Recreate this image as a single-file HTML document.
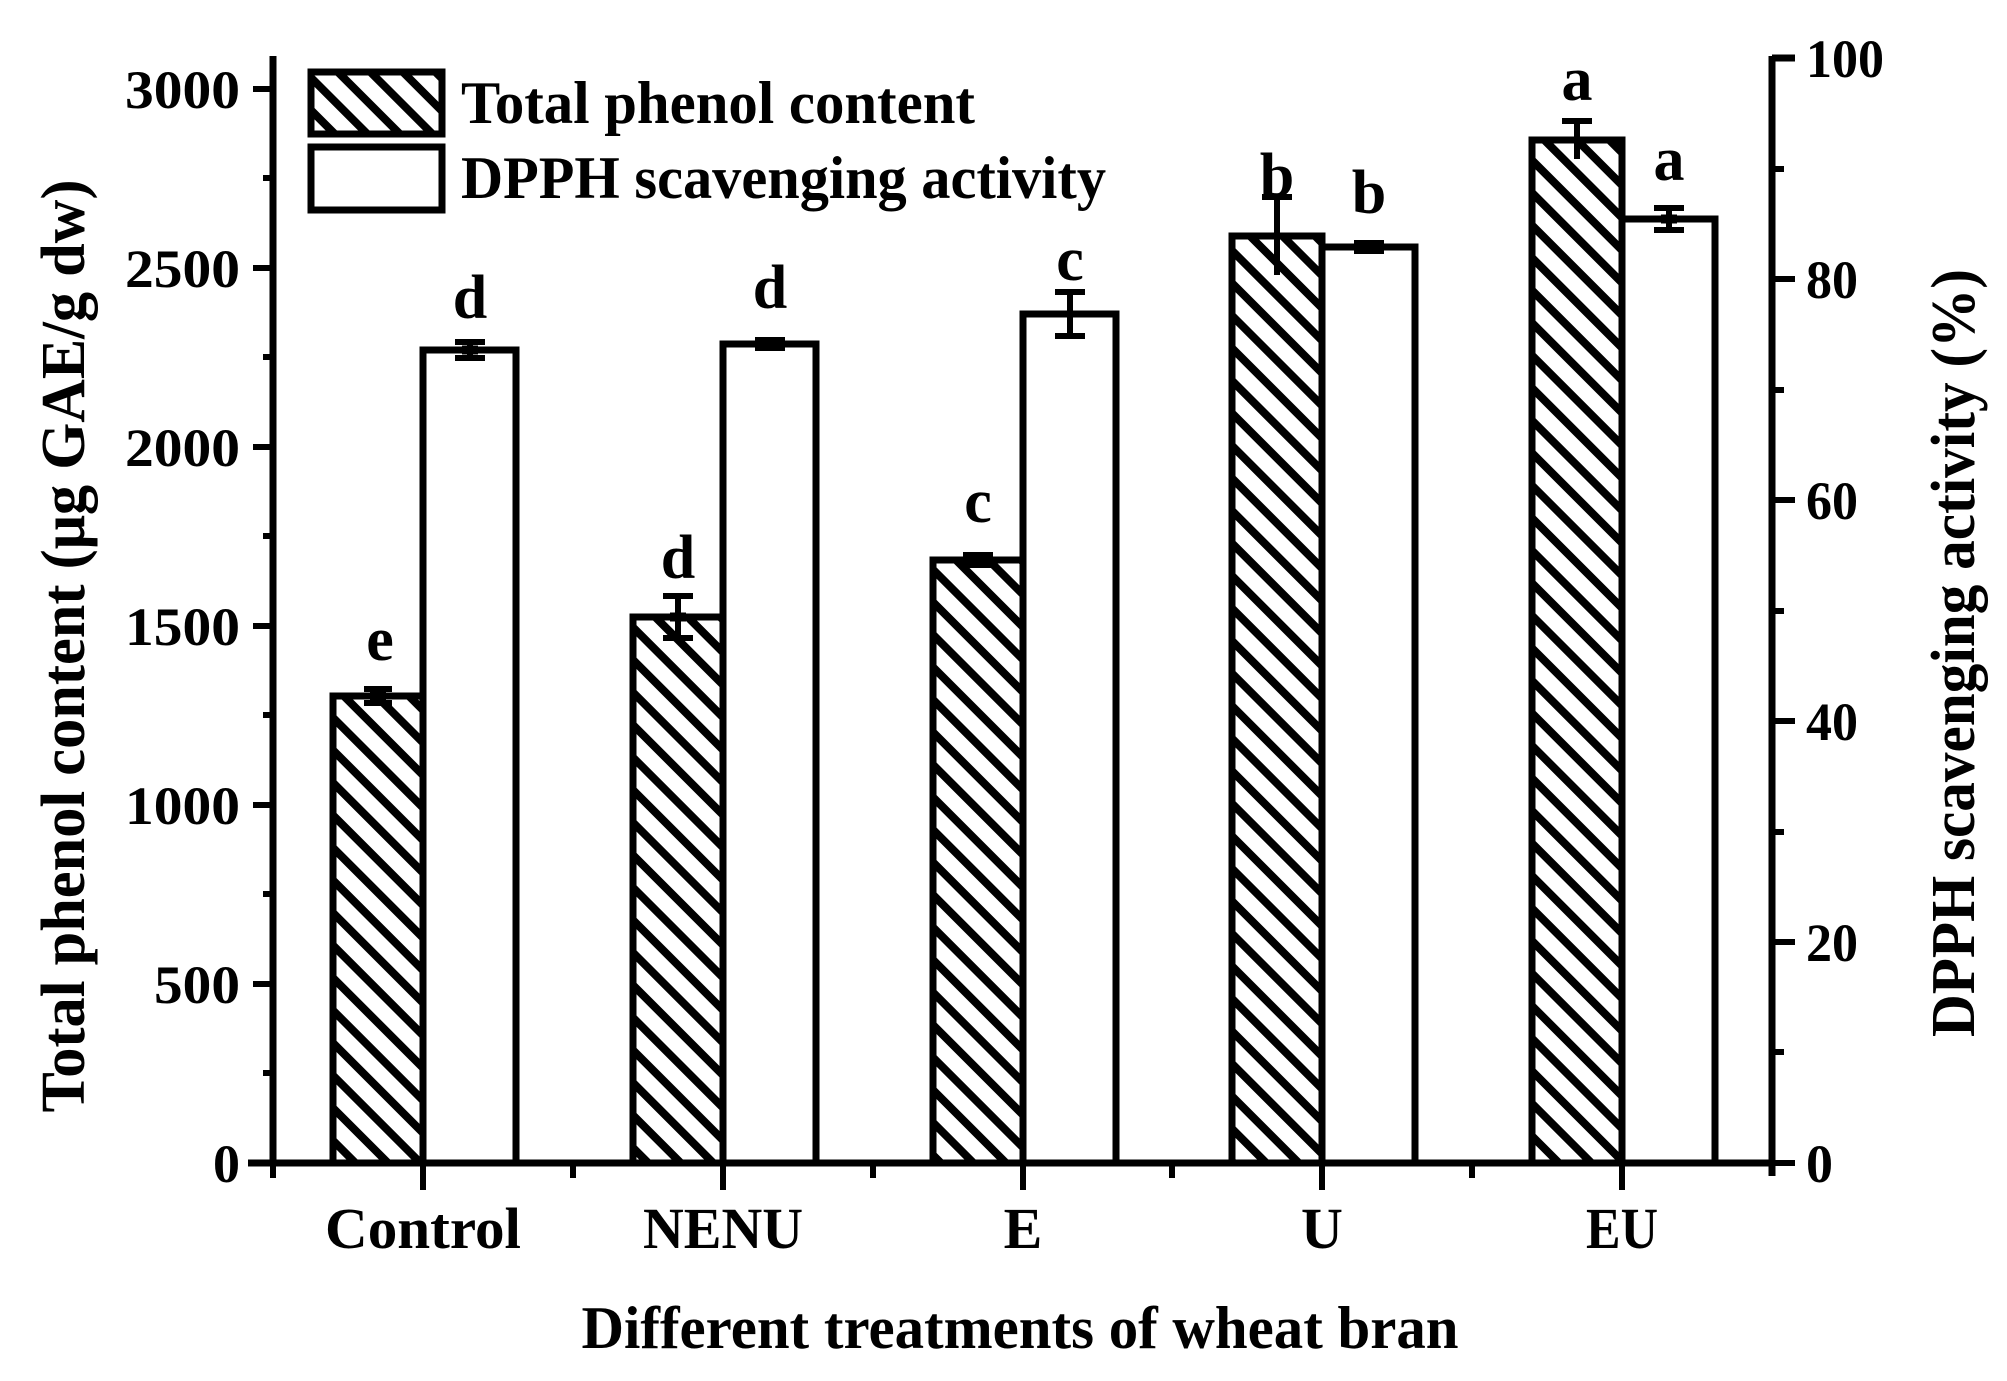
<!DOCTYPE html>
<html><head><meta charset="utf-8"><style>
html,body{margin:0;padding:0;background:#fff;}
svg{display:block;}
text{font-family:"Liberation Serif",serif;font-weight:bold;fill:#000;}
</style></head><body>
<svg width="2007" height="1381" viewBox="0 0 2007 1381" xmlns="http://www.w3.org/2000/svg">
<defs>
<pattern id="h" patternUnits="userSpaceOnUse" width="23" height="23" patternTransform="rotate(-45)">
<rect width="23" height="23" fill="#fff"/>
<rect x="0" y="0" width="8" height="23" fill="#000"/>
</pattern>
</defs>
<rect width="2007" height="1381" fill="#fff"/>

<!-- bars -->
<g stroke="#000" stroke-width="7">
<rect x="333" y="696" width="90" height="467" fill="url(#h)"/>
<rect x="423" y="350" width="93" height="813" fill="#fff"/>
<rect x="633" y="617" width="90" height="546" fill="url(#h)"/>
<rect x="723" y="344" width="93" height="819" fill="#fff"/>
<rect x="933" y="560" width="90" height="603" fill="url(#h)"/>
<rect x="1023" y="314" width="93" height="849" fill="#fff"/>
<rect x="1232" y="236" width="90" height="927" fill="url(#h)"/>
<rect x="1322" y="247" width="93" height="916" fill="#fff"/>
<rect x="1532" y="140" width="90" height="1023" fill="url(#h)"/>
<rect x="1622" y="219" width="93" height="944" fill="#fff"/>
</g>

<!-- error bars -->
<g stroke="#000" stroke-width="6" fill="none">
<path d="M378 689V703M364 689H392M364 703H392"/>
<path d="M470 342V358M455 342H485M455 358H485"/>
<path d="M678 596V638M663 596H693M663 638H693"/>
<path d="M770 340V348M755 340H785M755 348H785"/>
<path d="M978 555V565M963 555H993M963 565H993"/>
<path d="M1070 292V336M1055 292H1085M1055 336H1085"/>
<path d="M1277 197V275M1262 197H1292"/>
<path d="M1369 243V251M1354 243H1384M1354 251H1384"/>
<path d="M1577 121V159M1562 121H1592"/>
<path d="M1669 208V230M1654 208H1684M1654 230H1684"/>
</g>
<g stroke="#000" stroke-width="9">
<path d="M370 696H386M462 350H478M670 617H686M762 344H778M970 560H986M1361 247H1377M1661 219H1677"/>
</g>

<!-- letters -->
<g font-size="62" text-anchor="middle">
<text x="380" y="660">e</text>
<text x="470" y="318">d</text>
<text x="678" y="578">d</text>
<text x="770" y="308">d</text>
<text x="978" y="522">c</text>
<text x="1070" y="280">c</text>
<text x="1277" y="196">b</text>
<text x="1369" y="213">b</text>
<text x="1577" y="100">a</text>
<text x="1669" y="180">a</text>
</g>

<!-- axes -->
<g stroke="#000" stroke-width="7" fill="none">
<path d="M273 56V1163"/>
<path d="M1772 56V1176"/>
<path d="M248 1163H1772"/>
<path d="M1772 58H1795"/>
</g>
<g stroke="#000" stroke-width="6">
<path d="M253 89H273M253 268H273M253 447H273M253 626H273M253 805H273M253 984H273M253 1163H273"/>
<path d="M263 178H273M263 357H273M263 536H273M263 715H273M263 894H273M263 1073H273"/>
<path d="M1772 279H1795M1772 500H1795M1772 721H1795M1772 942H1795M1772 1163H1795"/>
<path d="M1772 169H1784M1772 390H1784M1772 611H1784M1772 832H1784M1772 1052H1784"/>
<path d="M423 1163V1190M723 1163V1190M1023 1163V1190M1322 1163V1190M1622 1163V1190"/>
<path d="M273 1163V1178M573 1163V1178M873 1163V1178M1172 1163V1178M1472 1163V1178"/>
</g>

<!-- left tick labels -->
<g font-size="54" text-anchor="end">
<text x="240" y="108" textLength="115" lengthAdjust="spacingAndGlyphs">3000</text>
<text x="240" y="287" textLength="115" lengthAdjust="spacingAndGlyphs">2500</text>
<text x="240" y="466" textLength="115" lengthAdjust="spacingAndGlyphs">2000</text>
<text x="240" y="645" textLength="115" lengthAdjust="spacingAndGlyphs">1500</text>
<text x="240" y="824" textLength="115" lengthAdjust="spacingAndGlyphs">1000</text>
<text x="240" y="1003" textLength="86" lengthAdjust="spacingAndGlyphs">500</text>
<text x="240" y="1182">0</text>
</g>
<g font-size="54" text-anchor="start">
<text x="1806" y="77" textLength="78" lengthAdjust="spacingAndGlyphs">100</text>
<text x="1806" y="298" textLength="52" lengthAdjust="spacingAndGlyphs">80</text>
<text x="1806" y="519" textLength="52" lengthAdjust="spacingAndGlyphs">60</text>
<text x="1806" y="740" textLength="52" lengthAdjust="spacingAndGlyphs">40</text>
<text x="1806" y="961" textLength="52" lengthAdjust="spacingAndGlyphs">20</text>
<text x="1806" y="1182">0</text>
</g>

<!-- category labels -->
<g font-size="58" text-anchor="middle">
<text x="423" y="1248" textLength="196" lengthAdjust="spacingAndGlyphs">Control</text>
<text x="723" y="1248" textLength="160" lengthAdjust="spacingAndGlyphs">NENU</text>
<text x="1023" y="1248">E</text>
<text x="1322" y="1248">U</text>
<text x="1622" y="1248" textLength="72" lengthAdjust="spacingAndGlyphs">EU</text>
</g>

<!-- axis titles -->
<text x="1020" y="1348" font-size="60" text-anchor="middle" textLength="877" lengthAdjust="spacingAndGlyphs">Different treatments of wheat bran</text>
<text transform="translate(84,646) rotate(-90)" font-size="62" text-anchor="middle" textLength="933" lengthAdjust="spacingAndGlyphs">Total phenol content (μg GAE/g dw)</text>
<text transform="translate(1974,653) rotate(-90)" font-size="62" text-anchor="middle" textLength="768" lengthAdjust="spacingAndGlyphs">DPPH scavenging activity (%)</text>

<!-- legend -->
<rect x="311" y="72" width="131" height="62" fill="url(#h)" stroke="#000" stroke-width="7"/>
<rect x="311" y="147" width="131" height="63" fill="#fff" stroke="#000" stroke-width="7"/>
<text x="461" y="123" font-size="60" textLength="514" lengthAdjust="spacingAndGlyphs">Total phenol content</text>
<text x="461" y="198" font-size="60" textLength="645" lengthAdjust="spacingAndGlyphs">DPPH scavenging activity</text>
</svg>
</body></html>
